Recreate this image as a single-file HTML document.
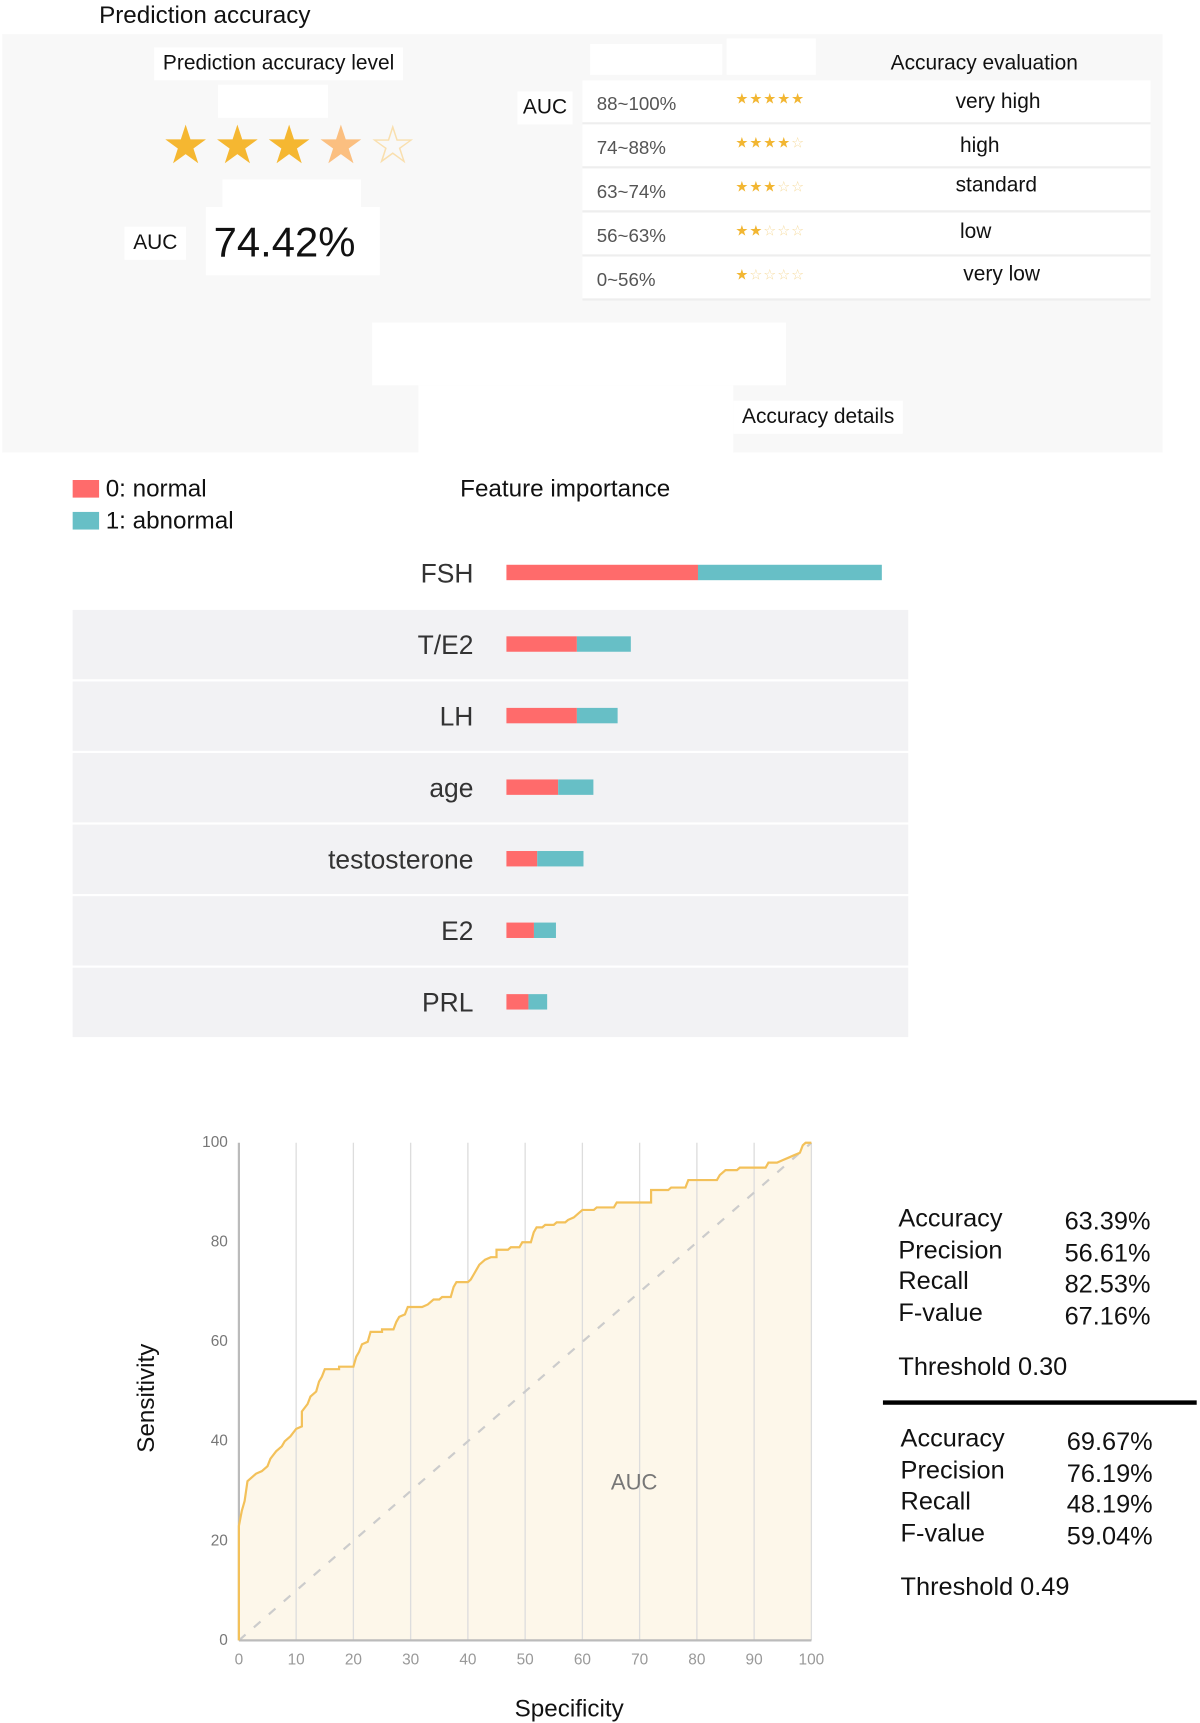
<!DOCTYPE html>
<html><head><meta charset="utf-8"><style>
html,body{margin:0;padding:0;background:#fff;width:1200px;height:1723px;overflow:hidden}
#wrap{position:absolute;left:0;top:0;width:1090px;height:1565px;transform:scale(1.10092);transform-origin:0 0;font-family:"Liberation Sans",sans-serif;color:#111}
.a{position:absolute}
.wb{position:absolute;background:#fff}
.lbl{position:absolute;background:#fff;font-size:19px;line-height:30px;padding:0 8px;white-space:nowrap}
.row{position:absolute;left:529px;width:516px;height:38px;background:#fff;border-bottom:2px solid #eee}
.row .r{position:absolute;left:13px;top:12px;font-size:17px;color:#555}
.row .s{position:absolute;left:139px;top:9px;font-size:13px;color:#f2b632;letter-spacing:1px}
.row .s span{color:#f6dca0}
.row .t{position:absolute;top:9px;font-size:19px;color:#111}
.m{position:absolute;font-size:23px;white-space:nowrap}
</style></head><body><div id="wrap">
<div class="a" style="left:90px;top:1px;font-size:22px">Prediction accuracy</div>
<div class="a" style="left:2px;top:31px;width:1054px;height:380px;background:#f8f8f8"></div>
<div class="lbl" style="left:140px;top:43px">Prediction accuracy level</div>
<div class="wb" style="left:198px;top:77px;width:100px;height:30px"></div>
<div class="a" style="left:147px;top:104px;font-size:48px;letter-spacing:4px;white-space:nowrap"><span style="color:#f5b731">★★★</span><span style="color:#fbbf80">★</span><span style="color:#f9dfae">☆</span></div>
<div class="wb" style="left:202px;top:163px;width:126px;height:27px"></div>
<div class="lbl" style="left:113px;top:206px;background:#fff">AUC</div>
<div class="wb" style="left:187px;top:188px;width:158px;height:62px"></div>
<div class="a" style="left:194px;top:200px;font-size:38px">74.42%</div>
<div class="wb" style="left:536px;top:40px;width:120px;height:28px"></div>
<div class="wb" style="left:660px;top:35px;width:81px;height:33px"></div>
<div class="a" style="left:809px;top:47px;font-size:19px">Accuracy evaluation</div>
<div class="lbl" style="left:470px;top:83px;padding:0 5px">AUC</div>
<div class="row" style="top:73px"><div class="r">88~100%</div><div class="s">★★★★★</div><div class="t" style="left:339px">very high</div></div>
<div class="row" style="top:113px"><div class="r">74~88%</div><div class="s">★★★★<span>☆</span></div><div class="t" style="left:343px">high</div></div>
<div class="row" style="top:153px"><div class="r">63~74%</div><div class="s">★★★<span>☆☆</span></div><div class="t" style="left:339px;top:5px">standard</div></div>
<div class="row" style="top:193px"><div class="r">56~63%</div><div class="s">★★<span>☆☆☆</span></div><div class="t" style="left:343px;top:7px">low</div></div>
<div class="row" style="top:233px"><div class="r">0~56%</div><div class="s">★<span>☆☆☆☆</span></div><div class="t" style="left:346px;top:6px">very low</div></div>
<div class="wb" style="left:338px;top:293px;width:376px;height:57px"></div>
<div class="wb" style="left:380px;top:350px;width:286px;height:62px"></div>
<div class="lbl" style="left:666px;top:364px">Accuracy details</div>

<svg class="a" style="left:0;top:0" width="1090" height="1565" id="svg"></svg>

<div class="m" style="left:816px;top:1092px;line-height:28.7px">Accuracy<br>Precision<br>Recall<br>F-value</div>
<div class="m" style="left:967px;top:1095px;line-height:28.7px">63.39%<br>56.61%<br>82.53%<br>67.16%</div>
<div class="m" style="left:816px;top:1228px">Threshold 0.30</div>
<div class="a" style="left:802px;top:1272px;width:285px;height:4px;background:#000"></div>
<div class="m" style="left:818px;top:1292px;line-height:28.7px">Accuracy<br>Precision<br>Recall<br>F-value</div>
<div class="m" style="left:969px;top:1295px;line-height:28.7px">69.67%<br>76.19%<br>48.19%<br>59.04%</div>
<div class="m" style="left:818px;top:1428px">Threshold 0.49</div>
</div>
<script>
const features=["FSH","T/E2","LH","age","testosterone","E2","PRL"];
const normalVals=[174,64,64,47,28,25,20];
const abnormalVals=[167,49,37,32,42,20,17];
const xTicks=[0,10,20,30,40,50,60,70,80,90,100];
const yTicks=[0,20,40,60,80,100];
const rocSpec=[0,0,0.5,1,1.5,3,4,5,5.5,6.5,7.5,8,9,10,11,11,12,12.5,13.5,14,14.5,15,17.5,17.5,20,20.5,21,21.5,22.5,23,25,25,27,27.5,28,29,29.5,32,33,34,35,35.5,37,37.5,38,40,40.5,41,42,43,44,45,45,47,47.5,49,49.5,51,51.5,52,53,53.5,55,55.5,57,57.5,58.5,59,60,62,62.5,65.5,66,72,72,75,75.5,78,78.5,83.5,84,85,87,87.5,92,92.5,94,95,96,97,98,98.5,99,100];
const rocSens=[0,23,26,28,32,33.5,34,35,36.5,38,39,40,41,42.5,43,46,47.5,49,50,52,53,54.5,54.5,55,55,57,58,59.5,60,62,62,62.5,62.5,64,65,65.5,67,67,67.5,68.5,68.5,69,69,71,72,72,72.5,73.5,75.5,76.5,77,77,78.5,78.5,79,79,80,80,82,83,83,83.5,83.5,84,84,84.5,85,85.5,86.5,86.5,87,87,88,88,90.5,90.5,91,91,92.5,92.5,93.5,94.5,94.5,95,95,96,96,96.5,97,97.5,98,99.5,100,100];

const NS="http://www.w3.org/2000/svg";
const svg=document.getElementById('svg');
function mk(t,a,txt){const e=document.createElementNS(NS,t);for(const k in a)e.setAttribute(k,a[k]);if(txt!==undefined)e.textContent=txt;svg.appendChild(e);return e;}
let e;
e=mk('rect',{x:66,y:436,width:24,height:16,fill:'#ff6b6b'});


e=mk('text',{x:96,y:451,'font-size':22,fill:'#111'},'0: normal');


e=mk('rect',{x:66,y:465,width:24,height:16,fill:'#67bfc6'});


e=mk('text',{x:96,y:480,'font-size':22,fill:'#111'},'1: abnormal');


e=mk('text',{x:418,y:451,'font-size':22,fill:'#111'},'Feature importance');


const bx=460, rowY0=520, rowH=65;
function by(i){return rowY0+i*rowH;}
function bw(v){return v;}
features.forEach((f,i)=>{
  const y=by(i);
  if(i>0){const b=mk('rect',{x:66,y:y-31,width:759,height:63,fill:'#f2f2f4'});
    
    }
  const t=mk('text',{x:430,y:y+9,'font-size':24,'text-anchor':'end',fill:'#333'},f);
  
  
  const r=mk('rect',{x:bx,y:y-7,width:bw(normalVals[i]),height:14,fill:'#ff6b6b'});
  
  
  const c=mk('rect',{x:bx+bw(normalVals[i]),y:y-7,width:bw(abnormalVals[i]),height:14,fill:'#67bfc6'});
  
  
});
const X0=217,X1=737,Y0=1490,Y1=1038;
function sx(v){return X0+(X1-X0)*v/100;}
function sy(v){return Y0-(Y0-Y1)*v/100;}
let pts=rocSpec.map((s,i)=>sx(s)+','+sy(rocSens[i])).join(' ');
e=mk('polygon',{points:pts+' '+sx(100)+','+sy(0),fill:'#fdf7ea'});


xTicks.forEach(v=>{
  if(v>0){const g=mk('line',{x1:sx(v),x2:sx(v),y1:sy(100),y2:sy(0),stroke:'#ddd','stroke-width':1.2});
  
  }
  const t=mk('text',{x:sx(v),y:1512,'font-size':14,'text-anchor':'middle',fill:'#999'},v);
  
  
});
yTicks.forEach(v=>{
  const t=mk('text',{x:207,y:sy(v)+4,'font-size':14,'text-anchor':'end',fill:'#777'},v);
  
  
});
e=mk('line',{x1:sx(0),y1:sy(0),x2:sx(100),y2:sy(100),stroke:'#ccc','stroke-width':2,'stroke-dasharray':'8,10'});


e=mk('line',{x1:X0,x2:X0,y1:sy(100),y2:Y0,stroke:'#bbb','stroke-width':2});


e=mk('line',{x1:X0,x2:X1,y1:Y0,y2:Y0,stroke:'#bbb','stroke-width':2});


e=mk('polyline',{points:pts,fill:'none',stroke:'#f3c15a','stroke-width':2});


e=mk('text',{x:576,y:1353,'font-size':20,'text-anchor':'middle',fill:'#777'},'AUC');


e=mk('text',{x:517,y:1559,'font-size':22,'text-anchor':'middle',fill:'#111'},'Specificity');


e=mk('text',{x:140,y:1270,'font-size':22,'text-anchor':'middle',fill:'#111',transform:'rotate(-90 140 1270)'},'Sensitivity');


</script>
</body></html>
